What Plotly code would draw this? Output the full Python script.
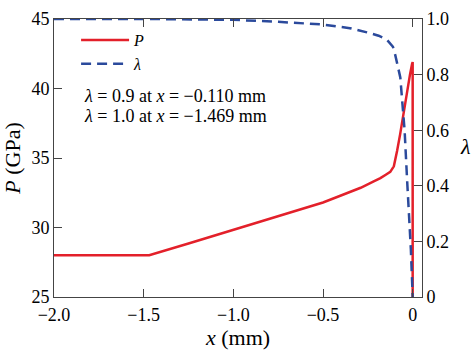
import plotly.graph_objects as go

# Pressure P (GPa) vs x (mm)
x_p = [-2.0, -1.469, -1.25, -1.0, -0.75, -0.5, -0.4, -0.29, -0.22, -0.18, -0.15, -0.125,
       -0.105, -0.095, -0.087, -0.07, -0.054, -0.031, -0.015, -0.003, 0.0, 0.0]
p_vals = [28.0, 28.0, 28.85, 29.85, 30.8, 31.8, 32.3, 32.86, 33.3, 33.55, 33.8, 34.0,
          34.4, 34.9, 35.5, 36.7, 38.0, 39.9, 41.0, 41.8, 41.9, 25.0]

# lambda vs x (mm)
x_l = [-2.0, -1.469, -1.0, -0.75, -0.5, -0.35, -0.255, -0.19, -0.143, -0.11, -0.097, -0.083,
       -0.069, -0.059, -0.045, -0.031, -0.02, -0.01, -0.004, 0.0]
l_vals = [1.0, 1.0, 0.997, 0.99, 0.98, 0.967, 0.952, 0.94, 0.925, 0.9, 0.87, 0.83,
          0.79, 0.71, 0.6, 0.42, 0.3, 0.17, 0.07, 0.0]

x_ticks = [-2.0, -1.5, -1.0, -0.5, 0.0]
x_ticktext = ["\u22122.0", "\u22121.5", "\u22121.0", "\u22120.5", "0"]
p_ticks = [25, 30, 35, 40, 45]
l_ticks = [0, 0.2, 0.4, 0.6, 0.8, 1.0]
l_ticktext = ["0", "0.2", "0.4", "0.6", "0.8", "1.0"]

FONT = "Liberation Serif"
AX = "#444444"
TICK = 18

fig = go.Figure()
fig.add_trace(go.Scatter(x=x_p, y=p_vals, mode="lines", name="<i>P</i>",
                         line=dict(color="#e3202a", width=2.5), yaxis="y"))
fig.add_trace(go.Scatter(x=x_l, y=l_vals, mode="lines", name="<i>λ</i>",
                         line=dict(color="#2b4a9c", width=2.5, dash="10px,6px"), yaxis="y2"))

fig.update_layout(
    width=474, height=352,
    margin=dict(l=54, r=52, t=9, b=53),
    paper_bgcolor="white", plot_bgcolor="white",
    font=dict(family=FONT, size=TICK, color="black"),
    showlegend=True,
    legend=dict(x=0.06, y=0.985, xanchor="left", yanchor="top",
                bgcolor="rgba(0,0,0,0)", font=dict(size=16, family=FONT), itemwidth=48,
                tracegroupgap=0),
    xaxis=dict(range=[-2.0, 0.052], tickvals=x_ticks, ticktext=x_ticktext,
               ticks="inside", ticklen=8, tickcolor=AX, showline=True, linecolor=AX,
               linewidth=1, mirror="ticks", showgrid=False, zeroline=False,
               tickfont=dict(size=TICK, family=FONT), ticklabelstandoff=1,
               title=dict(text="<i>x</i> (mm)", standoff=3, font=dict(size=22, family=FONT))),
    yaxis=dict(range=[25, 45], tickvals=p_ticks, ticks="inside", ticklen=8,
               tickcolor=AX, showline=True, linecolor=AX, linewidth=1,
               showgrid=False, zeroline=False, tickfont=dict(size=TICK, family=FONT),
               title=dict(text="<i>P</i> (GPa)", standoff=4, font=dict(size=22, family=FONT))),
    yaxis2=dict(range=[0, 1.0], tickvals=l_ticks, ticktext=l_ticktext, overlaying="y",
                side="right", ticks="inside", ticklen=8, tickcolor=AX, showline=True,
                linecolor=AX, linewidth=1, showgrid=False, zeroline=False,
                tickfont=dict(size=TICK, family=FONT)),
    annotations=[
        dict(x=0.076, y=0.722, xref="paper", yref="paper", xanchor="left", yanchor="middle",
             showarrow=False, text="<i>λ</i> = 0.9 at <i>x</i> = \u22120.110 mm",
             font=dict(size=18, family=FONT)),
        dict(x=0.076, y=0.652, xref="paper", yref="paper", xanchor="left", yanchor="middle",
             showarrow=False, text="<i>λ</i> = 1.0 at <i>x</i> = \u22121.469 mm",
             font=dict(size=18, family=FONT)),
        dict(x=1.118, y=0.54, xref="paper", yref="paper", xanchor="center", yanchor="middle",
             showarrow=False, text="<i>λ</i>", font=dict(size=22, family=FONT)),
    ],
)

fig.write_html("out.html")
